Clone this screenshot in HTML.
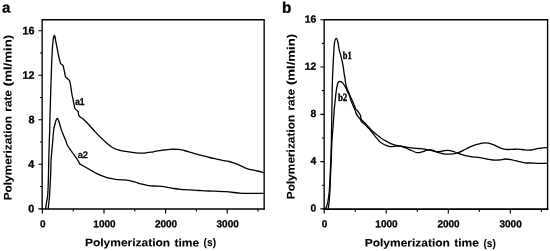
<!DOCTYPE html>
<html lang="en"><head><meta charset="utf-8"><title>Polymerization rate</title>
<style>html,body{margin:0;padding:0;background:#fff}svg{display:block}</style>
</head><body>
<svg width="550" height="251" viewBox="0 0 550 251">
<rect width="550" height="251" fill="#fff"/>
<g fill="none" stroke="#000" stroke-width="1.35" stroke-linejoin="miter" stroke-linecap="butt">
<path d="M42.15,209.80V19.75H264.15V209.80"/>
<path d="M41.48,209.00H264.82" stroke-width="1.60"/>
<path d="M324.15,209.97V19.70H547.60V209.97"/>
<path d="M323.47,209.15H548.27" stroke-width="1.65"/>
</g>
<g fill="none" stroke="#000" stroke-width="1.15">
<path d="M42.15,208.80h-3.8M42.15,186.54h-2.2M42.15,164.28h-3.8M42.15,142.02h-2.2M42.15,119.76h-3.8M42.15,97.50h-2.2M42.15,75.24h-3.8M42.15,52.98h-2.2M42.15,30.72h-3.8M324.15,208.90h-3.8M324.15,185.25h-2.2M324.15,161.60h-3.8M324.15,137.95h-2.2M324.15,114.30h-3.8M324.15,90.65h-2.2M324.15,67.00h-3.8M324.15,43.35h-2.2M324.15,19.70h-3.8M42.40,209.00v4.4M73.20,209.00v2.6M104.00,209.00v4.4M134.80,209.00v2.6M165.60,209.00v4.4M196.40,209.00v2.6M227.20,209.00v4.4M258.00,209.00v2.6M324.20,209.15v4.4M355.22,209.15v2.6M386.25,209.15v4.4M417.27,209.15v2.6M448.30,209.15v4.4M479.32,209.15v2.6M510.35,209.15v4.4M541.38,209.15v2.6"/>
</g>
<g fill="none" stroke="#000" stroke-width="1.3" stroke-linejoin="round" stroke-linecap="round">
<path d="M45.60,208.50C45.77,207.42 46.27,204.08 46.60,202.00C46.93,199.92 47.37,198.00 47.60,196.00C47.83,194.00 47.90,191.83 48.00,190.00C48.10,188.17 48.13,187.00 48.20,185.00C48.27,183.00 48.33,180.83 48.40,178.00C48.47,175.17 48.52,171.83 48.60,168.00C48.68,164.17 48.78,159.33 48.90,155.00C49.02,150.67 49.17,146.17 49.30,142.00C49.43,137.83 49.57,135.00 49.70,130.00C49.83,125.00 49.95,117.83 50.10,112.00C50.25,106.17 50.43,100.33 50.60,95.00C50.77,89.67 50.93,85.00 51.10,80.00C51.27,75.00 51.40,70.00 51.60,65.00C51.80,60.00 52.07,53.92 52.30,50.00C52.53,46.08 52.77,43.67 53.00,41.50C53.23,39.33 53.47,38.00 53.70,37.00C53.93,36.00 54.17,35.47 54.40,35.50C54.63,35.53 54.85,36.12 55.10,37.20C55.35,38.28 55.48,39.78 55.90,42.00C56.32,44.22 57.15,48.17 57.60,50.50C58.05,52.83 58.12,53.85 58.60,56.00C59.08,58.15 60.18,62.17 60.50,63.40C60.93,63.77 62.67,65.23 63.10,65.60C63.28,66.40 63.80,68.50 64.20,70.40C64.60,72.30 65.28,75.90 65.50,77.00C66.13,77.53 68.67,79.67 69.30,80.20C69.48,80.83 69.97,81.70 70.40,84.00C70.83,86.30 71.43,91.33 71.90,94.00C72.37,96.67 72.82,98.08 73.20,100.00C73.58,101.92 73.90,104.08 74.20,105.50C74.50,106.92 74.33,107.48 75.00,108.50C75.67,109.52 77.67,111.08 78.20,111.60C78.35,112.30 78.23,114.53 79.10,115.80C79.97,117.07 81.83,117.78 83.40,119.20C84.97,120.62 86.57,122.23 88.50,124.30C90.43,126.37 92.98,129.42 95.00,131.60C97.02,133.78 98.70,135.53 100.60,137.40C102.50,139.27 104.37,141.08 106.40,142.80C108.43,144.52 110.68,146.47 112.80,147.70C114.92,148.93 116.98,149.58 119.10,150.20C121.22,150.82 123.37,151.03 125.50,151.40C127.63,151.77 129.77,152.12 131.90,152.40C134.03,152.68 136.18,152.98 138.30,153.10C140.42,153.22 142.48,153.25 144.60,153.10C146.72,152.95 148.87,152.57 151.00,152.20C153.13,151.83 155.27,151.27 157.40,150.90C159.53,150.53 161.70,150.27 163.80,150.00C165.90,149.73 167.67,149.40 170.00,149.30C172.33,149.20 175.45,149.20 177.80,149.40C180.15,149.60 181.98,150.02 184.10,150.50C186.22,150.98 188.37,151.68 190.50,152.30C192.63,152.92 194.77,153.60 196.90,154.20C199.03,154.80 201.18,155.35 203.30,155.90C205.42,156.45 207.48,157.00 209.60,157.50C211.72,158.00 213.87,158.43 216.00,158.90C218.13,159.37 220.27,159.87 222.40,160.30C224.53,160.73 227.22,161.15 228.80,161.50C230.38,161.85 230.32,161.87 231.90,162.40C233.48,162.93 236.18,163.83 238.30,164.70C240.42,165.57 242.90,166.87 244.60,167.60C246.30,168.33 246.37,168.53 248.50,169.10C250.63,169.67 254.85,170.42 257.40,171.00C259.95,171.58 262.73,172.33 263.80,172.60"/>
<path d="M48.20,208.50C48.32,207.42 48.68,204.08 48.90,202.00C49.12,199.92 49.32,198.50 49.50,196.00C49.68,193.50 49.85,189.67 50.00,187.00C50.15,184.33 50.27,182.83 50.40,180.00C50.53,177.17 50.68,173.33 50.80,170.00C50.92,166.67 50.83,164.17 51.10,160.00C51.37,155.83 51.97,150.00 52.40,145.00C52.83,140.00 53.28,133.42 53.70,130.00C54.12,126.58 54.52,126.10 54.90,124.50C55.28,122.90 55.60,121.40 56.00,120.40C56.40,119.40 56.88,118.52 57.30,118.50C57.72,118.48 58.10,119.35 58.50,120.30C58.90,121.25 59.23,122.65 59.70,124.20C60.17,125.75 60.65,127.72 61.30,129.60C61.95,131.48 62.80,133.52 63.60,135.50C64.40,137.48 65.47,139.87 66.10,141.50C66.73,143.13 66.30,143.38 67.40,145.30C68.50,147.22 70.90,150.42 72.70,153.00C74.50,155.58 77.05,158.98 78.20,160.80C79.35,162.62 79.37,163.38 79.60,163.90C80.58,164.45 83.50,166.08 85.50,167.20C87.50,168.32 89.78,169.57 91.60,170.60C93.42,171.63 94.53,172.47 96.40,173.40C98.27,174.33 100.68,175.40 102.80,176.20C104.92,177.00 106.98,177.68 109.10,178.20C111.22,178.72 113.37,179.03 115.50,179.30C117.63,179.57 119.77,179.63 121.90,179.80C124.03,179.97 126.18,179.95 128.30,180.30C130.42,180.65 132.48,181.30 134.60,181.90C136.72,182.50 138.87,183.33 141.00,183.90C143.13,184.47 145.27,184.95 147.40,185.30C149.53,185.65 151.47,185.83 153.80,186.00C156.13,186.17 159.07,186.08 161.40,186.30C163.73,186.52 165.68,186.93 167.80,187.30C169.92,187.67 171.98,188.15 174.10,188.50C176.22,188.85 178.37,189.18 180.50,189.40C182.63,189.62 184.77,189.67 186.90,189.80C189.03,189.93 191.18,190.08 193.30,190.20C195.42,190.32 197.48,190.38 199.60,190.50C201.72,190.62 203.83,190.80 206.00,190.90C208.17,191.00 209.35,190.97 212.60,191.10C215.85,191.23 221.22,191.38 225.50,191.70C229.78,192.02 235.12,192.72 238.30,193.00C241.48,193.28 241.42,193.33 244.60,193.40C247.78,193.47 254.20,193.42 257.40,193.40C260.60,193.38 262.73,193.32 263.80,193.30"/>
<path d="M325.20,208.60C325.43,208.25 326.13,207.77 326.60,206.50C327.07,205.23 327.55,203.58 328.00,201.00C328.45,198.42 328.97,194.83 329.30,191.00C329.63,187.17 329.82,181.50 330.00,178.00C330.18,174.50 330.23,173.83 330.40,170.00C330.57,166.17 330.83,160.00 331.00,155.00C331.17,150.00 331.25,147.83 331.40,140.00C331.55,132.17 331.72,118.33 331.90,108.00C332.08,97.67 332.18,87.33 332.50,78.00C332.82,68.67 333.48,57.75 333.80,52.00C334.12,46.25 334.15,45.57 334.40,43.50C334.65,41.43 334.98,40.47 335.30,39.60C335.62,38.73 335.97,38.25 336.30,38.30C336.63,38.35 336.97,38.92 337.30,39.90C337.63,40.88 337.98,42.52 338.30,44.20C338.62,45.88 338.75,47.97 339.20,50.00C339.65,52.03 340.37,53.85 341.00,56.40C341.63,58.95 342.47,62.33 343.00,65.30C343.53,68.27 343.87,72.08 344.20,74.20C344.53,76.32 344.77,76.52 345.00,78.00C345.23,79.48 345.28,81.40 345.60,83.10C345.92,84.80 346.38,86.67 346.90,88.20C347.42,89.73 348.15,90.97 348.70,92.30C349.25,93.63 349.67,94.95 350.20,96.20C350.73,97.45 351.27,98.38 351.90,99.80C352.53,101.22 353.35,103.17 354.00,104.70C354.65,106.23 355.08,107.82 355.80,109.00C356.52,110.18 357.52,110.70 358.30,111.80C359.08,112.90 360.05,114.48 360.50,115.60C360.95,116.72 360.65,117.60 361.00,118.50C361.35,119.40 361.95,120.27 362.60,121.00C363.25,121.73 363.87,121.87 364.90,122.90C365.93,123.93 367.62,125.88 368.80,127.20C369.98,128.52 370.77,129.62 372.00,130.80C373.23,131.98 374.55,132.98 376.20,134.30C377.85,135.62 380.15,137.52 381.90,138.70C383.65,139.88 384.88,140.45 386.70,141.40C388.52,142.35 390.73,143.63 392.80,144.40C394.87,145.17 396.98,145.57 399.10,146.00C401.22,146.43 403.37,146.68 405.50,147.00C407.63,147.32 409.77,147.65 411.90,147.90C414.03,148.15 416.18,148.30 418.30,148.50C420.42,148.70 422.48,148.78 424.60,149.10C426.72,149.42 428.87,149.87 431.00,150.40C433.13,150.93 435.27,151.72 437.40,152.30C439.53,152.88 442.05,153.58 443.80,153.90C445.55,154.22 446.37,154.20 447.90,154.20C449.43,154.20 451.42,154.10 453.00,153.90C454.58,153.70 455.70,153.58 457.40,153.00C459.10,152.42 461.18,151.37 463.20,150.40C465.22,149.43 467.38,148.15 469.50,147.20C471.62,146.25 473.98,145.35 475.90,144.70C477.82,144.05 479.52,143.62 481.00,143.30C482.48,142.98 483.52,142.83 484.80,142.80C486.08,142.77 487.20,142.75 488.70,143.10C490.20,143.45 491.85,144.07 493.80,144.90C495.75,145.73 498.45,147.35 500.40,148.10C502.35,148.85 503.58,149.18 505.50,149.40C507.42,149.62 509.77,149.45 511.90,149.40C514.03,149.35 516.18,149.02 518.30,149.10C520.42,149.18 522.48,149.75 524.60,149.90C526.72,150.05 529.08,150.17 531.00,150.00C532.92,149.83 534.40,149.22 536.10,148.90C537.80,148.58 539.38,148.32 541.20,148.10C543.02,147.88 546.03,147.68 547.00,147.60"/>
<path d="M328.20,208.60C328.27,208.17 328.43,207.27 328.60,206.00C328.77,204.73 328.98,203.50 329.20,201.00C329.42,198.50 329.70,194.83 329.90,191.00C330.10,187.17 330.25,181.50 330.40,178.00C330.55,174.50 330.63,173.83 330.80,170.00C330.97,166.17 331.20,160.00 331.40,155.00C331.60,150.00 331.70,145.00 332.00,140.00C332.30,135.00 332.83,130.00 333.20,125.00C333.57,120.00 333.92,113.58 334.20,110.00C334.48,106.42 334.63,106.07 334.90,103.50C335.17,100.93 335.47,97.37 335.80,94.60C336.13,91.83 336.52,88.90 336.90,86.90C337.28,84.90 337.62,83.52 338.10,82.60C338.58,81.68 339.25,81.52 339.80,81.40C340.35,81.28 340.87,81.57 341.40,81.90C341.93,82.23 342.35,82.57 343.00,83.40C343.65,84.23 344.58,85.60 345.30,86.90C346.02,88.20 346.60,89.72 347.30,91.20C348.00,92.68 348.90,94.27 349.50,95.80C350.10,97.33 350.32,98.80 350.90,100.40C351.48,102.00 352.32,103.80 353.00,105.40C353.68,107.00 354.50,108.72 355.00,110.00C355.50,111.28 355.45,111.95 356.00,113.10C356.55,114.25 357.60,115.92 358.30,116.90C359.00,117.88 359.68,118.22 360.20,119.00C360.72,119.78 360.75,120.80 361.40,121.60C362.05,122.40 362.98,122.75 364.10,123.80C365.22,124.85 366.88,126.60 368.10,127.90C369.32,129.20 370.15,130.12 371.40,131.60C372.65,133.08 374.22,135.13 375.60,136.80C376.98,138.47 378.55,140.47 379.70,141.60C380.85,142.73 381.45,142.97 382.50,143.60C383.55,144.23 384.58,144.88 386.00,145.40C387.42,145.92 389.33,146.58 391.00,146.70C392.67,146.82 394.42,146.18 396.00,146.10C397.58,146.02 398.88,145.88 400.50,146.20C402.12,146.52 403.87,147.28 405.70,148.00C407.53,148.72 409.62,149.73 411.50,150.50C413.38,151.27 415.23,152.37 417.00,152.60C418.77,152.83 420.40,152.30 422.10,151.90C423.80,151.50 425.50,150.48 427.20,150.20C428.90,149.92 430.77,149.95 432.30,150.20C433.83,150.45 434.65,151.57 436.40,151.70C438.15,151.83 440.88,151.22 442.80,151.00C444.72,150.78 446.20,150.33 447.90,150.40C449.60,150.47 451.42,150.97 453.00,151.40C454.58,151.83 455.50,152.35 457.40,153.00C459.30,153.65 461.95,154.67 464.40,155.30C466.85,155.93 469.50,156.42 472.10,156.80C474.70,157.18 477.62,157.23 480.00,157.60C482.38,157.97 484.27,158.60 486.40,159.00C488.53,159.40 490.68,159.83 492.80,160.00C494.92,160.17 496.98,160.17 499.10,160.00C501.22,159.83 503.37,159.03 505.50,159.00C507.63,158.97 509.77,159.42 511.90,159.80C514.03,160.18 516.18,160.80 518.30,161.30C520.42,161.80 522.48,162.52 524.60,162.80C526.72,163.08 528.87,162.92 531.00,163.00C533.13,163.08 534.73,163.25 537.40,163.30C540.07,163.35 545.40,163.30 547.00,163.30"/>
</g>
<g font-family="'Liberation Sans', Arial, sans-serif" font-weight="bold" fill="#000" stroke="#000" stroke-width="0.3" transform="rotate(0.03 275 125)">
<text x="2.0" y="12.55" font-size="15">a</text>
<text x="282.0" y="12.65" font-size="15.3">b</text>
<text x="34.4" y="212.40" font-size="10.8" text-anchor="end">0</text>
<text x="34.4" y="167.88" font-size="10.8" text-anchor="end">4</text>
<text x="34.4" y="123.36" font-size="10.8" text-anchor="end">8</text>
<text x="34.4" y="78.84" font-size="10.8" text-anchor="end">12</text>
<text x="34.4" y="34.32" font-size="10.8" text-anchor="end">16</text>
<text x="316.2" y="211.60" font-size="10.3" text-anchor="end">0</text>
<text x="316.2" y="164.30" font-size="10.3" text-anchor="end">4</text>
<text x="316.2" y="117.00" font-size="10.3" text-anchor="end">8</text>
<text x="316.2" y="69.70" font-size="10.3" text-anchor="end">12</text>
<text x="316.2" y="22.40" font-size="10.3" text-anchor="end">16</text>
<text x="42.90" y="227.25" font-size="10" text-anchor="middle">0</text>
<text x="104.50" y="227.25" font-size="10" text-anchor="middle">1000</text>
<text x="166.10" y="227.25" font-size="10" text-anchor="middle">2000</text>
<text x="227.70" y="227.25" font-size="10" text-anchor="middle">3000</text>
<text x="324.50" y="227.25" font-size="10" text-anchor="middle">0</text>
<text x="386.55" y="227.25" font-size="10" text-anchor="middle">1000</text>
<text x="448.60" y="227.25" font-size="10" text-anchor="middle">2000</text>
<text x="510.65" y="227.25" font-size="10" text-anchor="middle">3000</text>
<text y="246.45" font-size="11" stroke-width="0.1"><tspan x="85.0" textLength="85.2" lengthAdjust="spacingAndGlyphs">Polymerization</tspan><tspan x="174.5" textLength="24.8" lengthAdjust="spacingAndGlyphs">time</tspan><tspan x="203.7" textLength="12.4" lengthAdjust="spacingAndGlyphs">(s)</tspan></text>
<text y="246.45" font-size="11" stroke-width="0.1"><tspan x="364.8" textLength="85.2" lengthAdjust="spacingAndGlyphs">Polymerization</tspan><tspan x="454.3" textLength="24.8" lengthAdjust="spacingAndGlyphs">time</tspan><tspan x="483.5" textLength="12.4" lengthAdjust="spacingAndGlyphs">(s)</tspan></text>
<text transform="translate(11.5,200.5) rotate(-90)" font-size="11" stroke-width="0.1"><tspan x="0" textLength="84.4" lengthAdjust="spacingAndGlyphs">Polymerization</tspan><tspan x="88.7" textLength="21.6" lengthAdjust="spacingAndGlyphs">rate</tspan><tspan x="114.1" textLength="51.5" lengthAdjust="spacingAndGlyphs">(ml/min)</tspan></text>
<text transform="translate(294.6,199.2) rotate(-90)" font-size="11" stroke-width="0.1"><tspan x="0" textLength="84.4" lengthAdjust="spacingAndGlyphs">Polymerization</tspan><tspan x="88.7" textLength="21.6" lengthAdjust="spacingAndGlyphs">rate</tspan><tspan x="114.1" textLength="51.2" lengthAdjust="spacingAndGlyphs">(ml/min)</tspan></text>
<text x="75.2" y="104.8" font-size="10" stroke-width="0.35" textLength="9.3" lengthAdjust="spacingAndGlyphs">a1</text>
<text x="77.7" y="158.0" font-size="9.3" font-weight="normal" stroke-width="0.4">a2</text>
</g>
<g font-family="'Liberation Serif', 'Times New Roman', serif" font-weight="bold" fill="#000" stroke="#000" stroke-width="0.4" font-size="11" transform="rotate(0.03 275 125)">
<text x="342.7" y="59.25" textLength="9.0" lengthAdjust="spacingAndGlyphs">b1</text>
<text x="337.9" y="100.8" textLength="9.3" lengthAdjust="spacingAndGlyphs">b2</text>
</g>
</svg>
</body></html>
